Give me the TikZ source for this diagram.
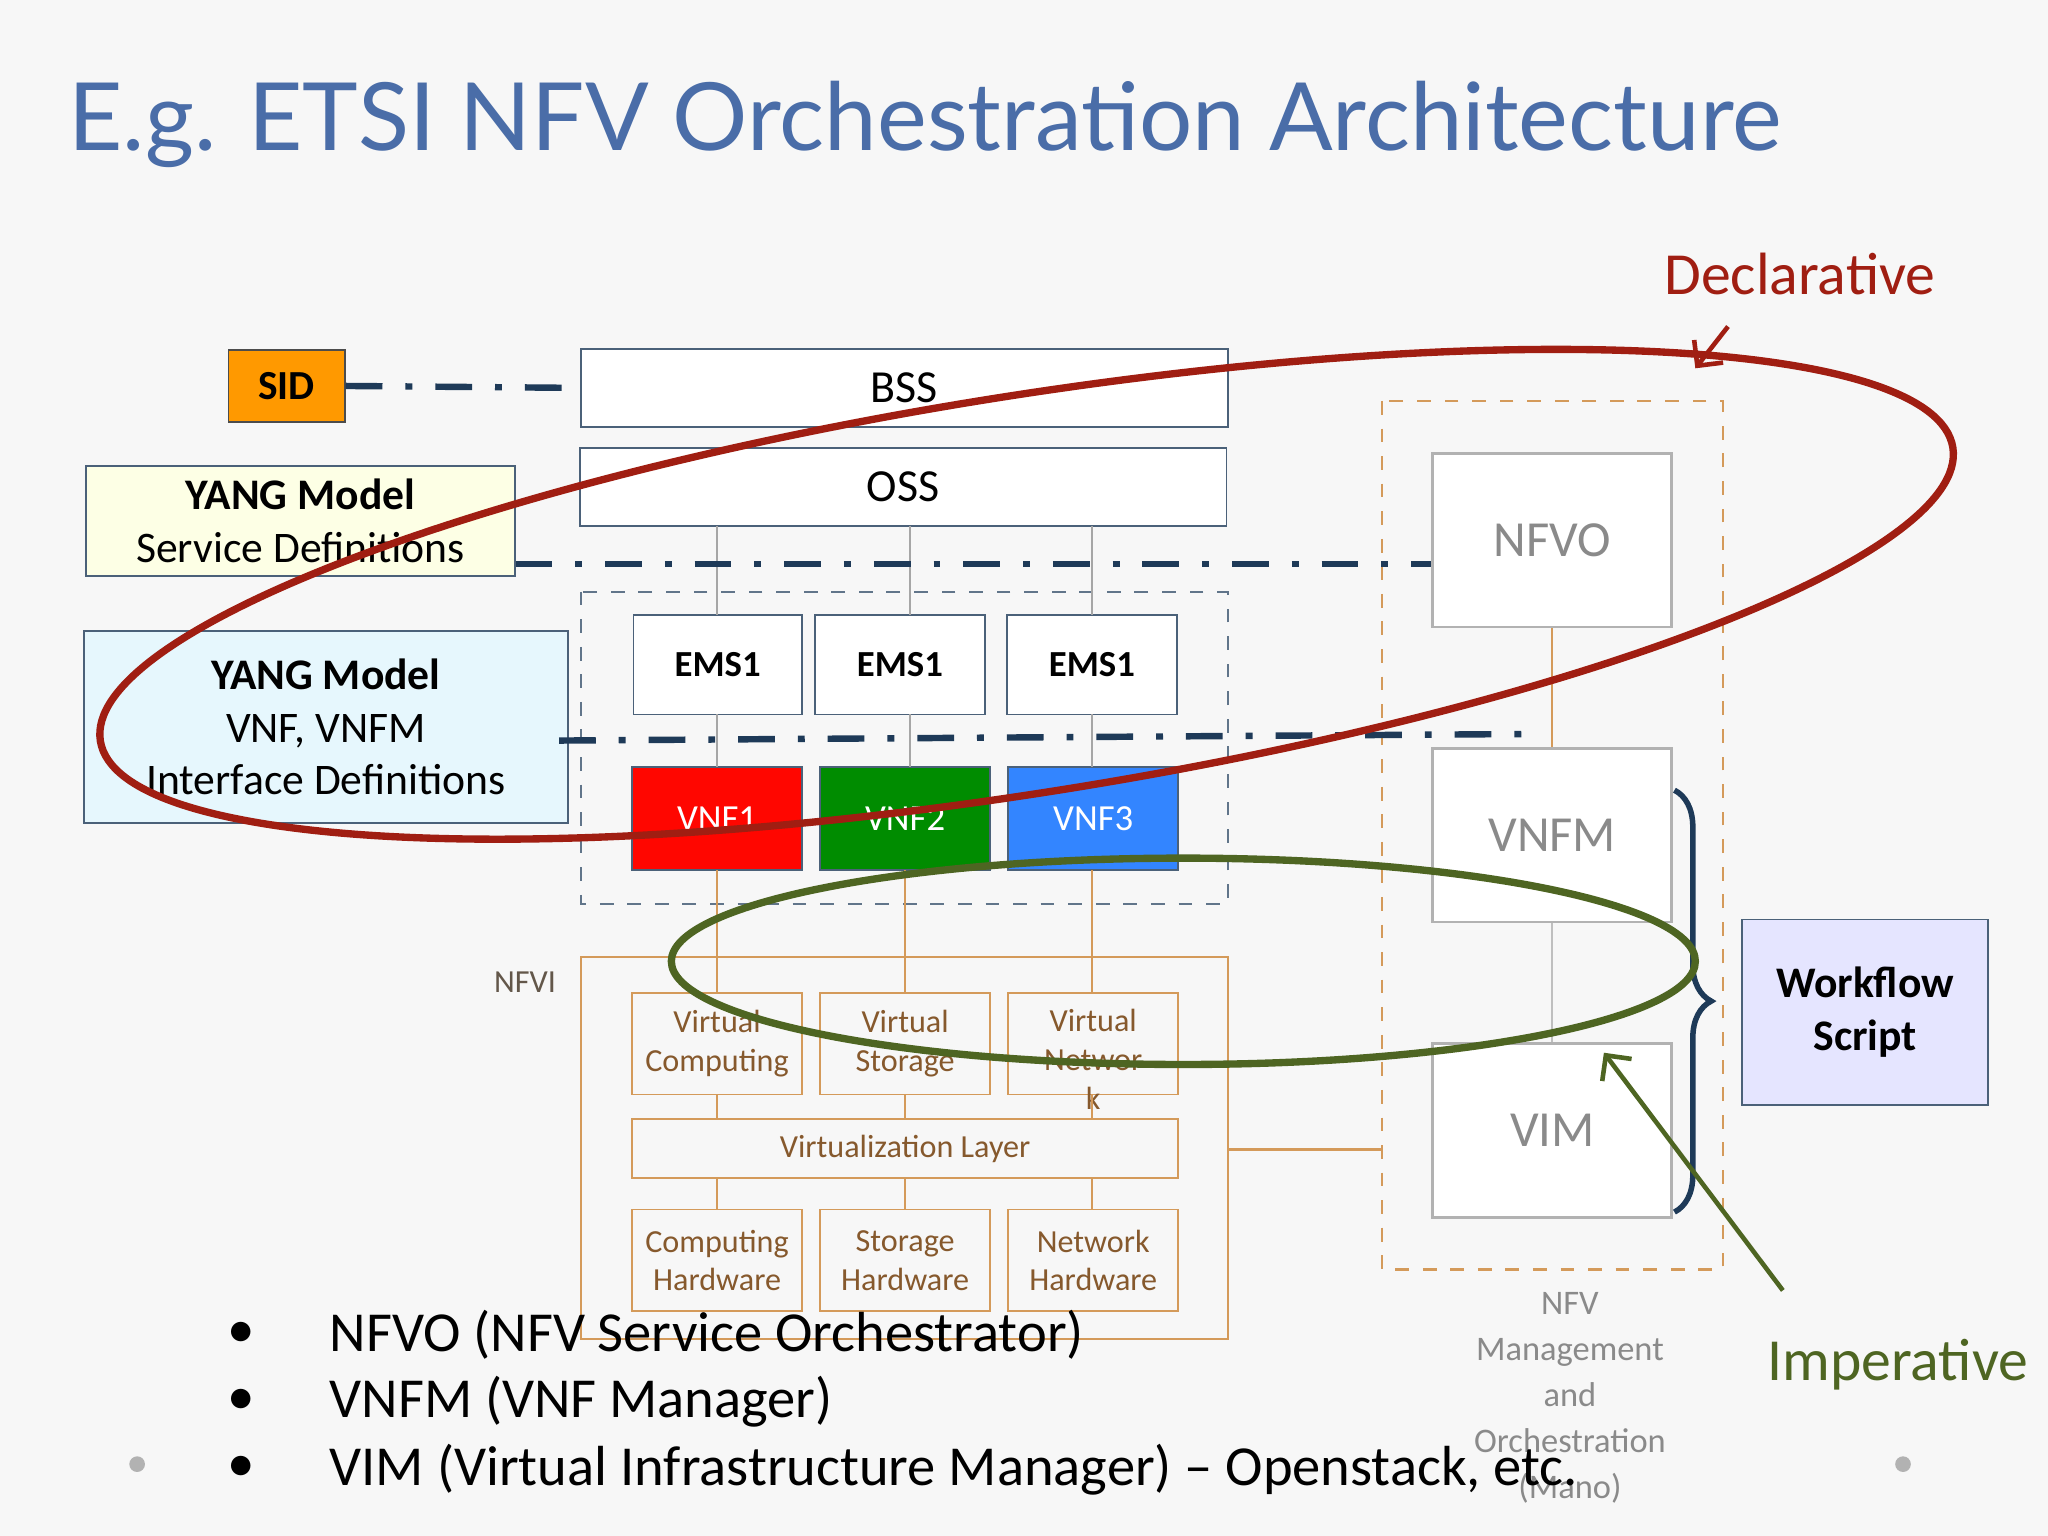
\documentclass[tikz,border=0pt]{standalone}
\usepackage{fontspec}
\setmainfont{Carlito}
\newfontfamily\titlefont{Lato}
\usetikzlibrary{fit,arrows.meta,decorations.pathreplacing}
\definecolor{ttl}{HTML}{4A6DA8}
\definecolor{navy}{HTML}{1E3A58}
\definecolor{brn}{HTML}{D49A5A}
\definecolor{dred}{HTML}{A01E12}
\definecolor{olv}{HTML}{4E6522}
\definecolor{gtx}{HTML}{8A8A8A}
\begin{document}
\begin{tikzpicture}[x=0.01cm,y=-0.01cm,
 box/.style={draw=#1,inner sep=0pt,align=center},
 box/.default=navy!80,
 ddl/.style={draw=navy,line width=1.4pt,dash pattern=on 8pt off 5pt on 1.5pt off 5pt},
 thin/.style={draw=gray!70,line width=0.4pt},
 bthin/.style={draw=brn,line width=0.5pt},
 gbox/.style={draw=gray!60,line width=0.6pt,inner sep=0pt,fill=white,text=gtx,font=\fontsize{10}{12}\selectfont},
 sm/.style={font=\fontsize{7}{8.4}\selectfont,text=brown!70!black},
 ]
\useasboundingbox (0,0) rectangle (1568,1176);
\fill[gray!6] (0,0) rectangle (1568,1176);
\node[anchor=west,text=ttl,font=\titlefont\fontsize{20.5}{24}\selectfont] (title) at (40,95) {E.g. ETSI NFV Orchestration Architecture};
% left boxes
\node[box=gray!60!black,fill=orange!80!yellow,fit={(175,268)(264,323)},font=\bfseries\fontsize{9}{11}\selectfont,text=black] (sid) {};
\node[font=\bfseries\fontsize{9}{11}\selectfont] at (sid) {SID};
\node[box,fill=green!8!yellow!10,fit={(66,357)(394,441)}] (ysd) {};
\node[align=center,font=\fontsize{9.5}{11.5}\selectfont] at (ysd) {\textbf{YANG Model}\\Service Definitions};
\node[box,fill=cyan!10,fit={(64,483)(435,630)}] (yvnf) {};
\node[align=center,font=\fontsize{9.5}{11.5}\selectfont] at (yvnf) {\textbf{YANG Model}\\VNF, VNFM\\Interface Definitions};
% BSS OSS
\node[box,fill=white,fit={(445,267)(940,327)}] (bss) {};
\node[font=\fontsize{10}{12}\selectfont] at (bss) {BSS};
\node[box,fill=white,fit={(444,343)(939,403)}] (oss) {};
\node[font=\fontsize{10}{12}\selectfont] at (oss) {OSS};
\draw[navy!70,dashed,line width=0.5pt] (445,453) rectangle (940,692);
% EMS
\foreach \n/\a/\b in {e1/485/614,e2/624/754,e3/771/901}{
 \node[box,fill=white,fit={(\a,471)(\b,547)}] (\n) {};
 \node[font=\bfseries\fontsize{8}{10}\selectfont] at (\n) {EMS1};}
\node[box,fill=red!95!orange,fit={(484,587)(614,666)}] (v1) {};
\node[text=white,font=\fontsize{8}{10}\selectfont] at (v1) {VNF1};
\node[box,fill=green!55!black,fit={(628,587)(758,666)}] (v2) {};
\node[text=white,font=\fontsize{8}{10}\selectfont] at (v2) {VNF2};
\node[box,fill=blue!60!cyan!80,fit={(772,587)(902,666)}] (v3) {};
\node[text=white,font=\fontsize{8}{10}\selectfont] at (v3) {VNF3};
\foreach \x/\e/\v in {549/e1/v1,697/e2/v2,836/e3/v3}{
 \draw[thin] (\x,403) -- (\x,471);
 \draw[thin] (\x,547) -- (\x,587);}
% NFVI
\node[box=brn,fit={(445,733)(940,1025)}] (nfvi) {};
\node[sm,text=gray!60!black!80!brown] (nfvil) at (402,752) {NFVI};
\node[box=brn,fit={(484,760)(614,838)}] (vc) {};
\node[sm,align=center] at (vc) {Virtual\\Computing};
\node[box=brn,fit={(628,760)(758,838)}] (vs) {};
\node[sm,align=center] at (vs) {Virtual\\Storage};
\node[box=brn,fit={(772,760)(902,838)}] (vn) {};
\node[sm,align=center] at ([yshift=-0.12cm]vn) {Virtual\\Networ\\k};
\node[box=brn,fit={(484,857)(902,902)}] (vl) {};
\node[sm] at (vl) {Virtualization Layer};
\node[box=brn,fit={(484,926)(614,1004)}] (ch) {};
\node[sm,align=center] at (ch) {Computing\\Hardware};
\node[box=brn,fit={(628,926)(758,1004)}] (sh) {};
\node[sm,align=center] at (sh) {Storage\\Hardware};
\node[box=brn,fit={(772,926)(902,1004)}] (nh) {};
\node[sm,align=center] at (nh) {Network\\Hardware};
\foreach \x in {549,693,836}{
 \draw[bthin] (\x,666) -- (\x,760);
 \draw[bthin] (\x,838) -- (\x,857);
 \draw[bthin] (\x,902) -- (\x,926);}
% MANO
\draw[brn,dashed,line width=0.5pt] (1058,307) rectangle (1319,972);
\node[gbox,fit={(1097,347)(1280,480)}] (nfvo) {};
\node[text=gtx,font=\fontsize{11}{13}\selectfont] at (nfvo) {NFVO};
\node[gbox,fit={(1097,573)(1280,706)}] (vnfm) {};
\node[text=gtx,font=\fontsize{11}{13}\selectfont] at (vnfm) {VNFM};
\node[gbox,fit={(1097,799)(1280,932)}] (vim) {};
\node[text=gtx,font=\fontsize{11}{13}\selectfont] at (vim) {VIM};
\draw[bthin] (nfvo.south) -- (vnfm.north);
\draw[gray!50] (vnfm.south) -- (vim.north);
\draw[bthin] (940,880) -- (1058,880);
\node[text=gtx,align=center,font=\fontsize{7.5}{10}\selectfont] (manol) at (1202,1070) {NFV\\Management\\and\\Orchestration\\(Mano)};
% workflow
\node[box,fill=blue!10,fit={(1334,704)(1522,846)}] (wf) {};
\node[align=center,font=\bfseries\fontsize{9.5}{11.5}\selectfont] at (wf) {Workflow\\Script};
\draw[navy,line width=1.2pt,decorate,decoration={brace,amplitude=8pt}] (1282,605) -- (1282,928);
% dash-dot lines
\draw[ddl] (sid.east) -- (bss.west);
\draw[ddl] (ysd.east |- 0,432) -- (nfvo.west |- 0,432);
\draw[ddl] (428,567) -- (1165,562);
% ellipses
\draw[dred,line width=1.6pt] (786,455) ellipse[x radius=718,y radius=152,rotate=9];
\draw[olv,line width=1.6pt] (906,736) ellipse[x radius=392,y radius=79];
\node[text=dred,font=\fontsize{13}{15}\selectfont] (decl) at (1378,210) {Declarative};
\node[text=olv,font=\fontsize{13}{15}\selectfont] (imp) at (1453,1045) {Imperative};
\coordinate (da) at (1298,282);
\coordinate (ia) at (1228,806);
\draw[dred,line width=1pt,-{Straight Barb[length=4pt]}] (1323,250) -- (da);
\draw[olv,line width=1pt,-{Straight Barb[length=4pt]}] (1365,988) -- (ia);
% bullets
\foreach \y/\t in {1022/{NFVO (NFV Service Orchestrator)},1073/{VNFM (VNF Manager)},1125/{VIM (Virtual Infrastructure Manager) – Openstack, etc.}}{
 \node[font=\fontsize{12}{14}\selectfont] at (185,\y) {•};
 \node[anchor=west,font=\fontsize{12.3}{15}\selectfont] at (240,\y) {\t};}
\fill[gray!60] (105,1121) circle (6);
\fill[gray!60] (1457,1121) circle (6);
\end{tikzpicture}
\end{document}
